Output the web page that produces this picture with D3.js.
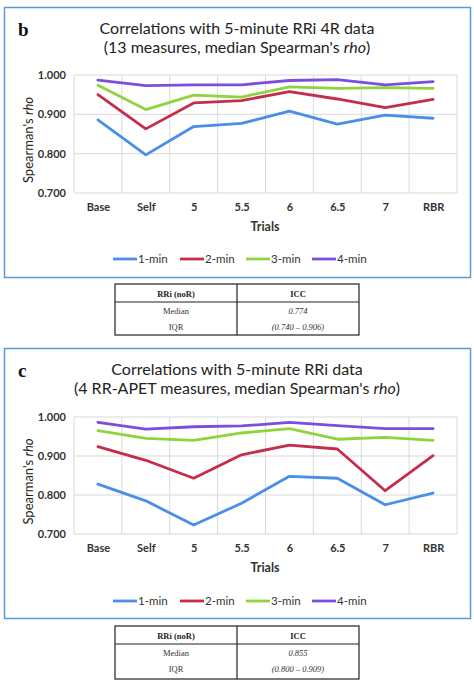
<!DOCTYPE html>
<html><head><meta charset="utf-8">
<script src="https://cdn.jsdelivr.net/npm/d3@7"></script>
<style>body{margin:0;background:#fff}svg{display:block}</style>
</head><body>
<script>
const trials = ["Base","Self","5","5.5","6","6.5","7","RBR"];
const seriesNames = ["1-min","2-min","3-min","4-min"];
const seriesColors = ["#4a8fe7","#c42d4b","#8fd43d","#7b4fdc"];
const yTicks = [0.7,0.8,0.9,1.0];

// Panel b values
const b1min = [0.886,0.797,0.869,0.877,0.908,0.875,0.898,0.890];
const b2min = [0.950,0.863,0.929,0.935,0.958,0.939,0.917,0.938];
const b3min = [0.974,0.912,0.949,0.944,0.970,0.966,0.968,0.966];
const b4min = [0.987,0.973,0.975,0.975,0.986,0.988,0.975,0.983];

// Panel c values
const c1min = [0.828,0.785,0.723,0.779,0.848,0.843,0.775,0.805];
const c2min = [0.924,0.889,0.843,0.903,0.928,0.918,0.811,0.901];
const c3min = [0.965,0.945,0.940,0.959,0.970,0.943,0.948,0.940];
const c4min = [0.986,0.969,0.975,0.977,0.986,0.978,0.970,0.970];

const tableHeader = ["RRi (noR)","ICC"];
const tableRowLabels = ["Median","IQR"];
const bTableValues = ["0.774","(0.740 – 0.906)"];
const cTableValues = ["0.855","(0.800 – 0.909)"];

const W = 474, H = 686;
const svg = d3.select("body").append("svg").attr("width",W).attr("height",H);
const sans = "Lato, 'Open Sans', sans-serif";
const serif = "'Liberation Serif', 'DejaVu Serif', serif";

function panel(cfg){
  const g = svg.append("g");
  g.append("rect").attr("x",4.5).attr("y",cfg.top+0.5).attr("width",466).attr("height",cfg.boxH)
    .attr("fill","#fff").attr("stroke","#5b9bd5").attr("stroke-width",1.5);
  g.append("text").attr("x",18).attr("y",cfg.top+29).text(cfg.letter)
    .attr("font-family",serif).attr("font-weight","bold").attr("font-size",19).attr("fill","#111");
  g.append("text").attr("x",237).attr("y",cfg.top+27).attr("text-anchor","middle")
    .attr("font-family",sans).attr("font-size",16).attr("fill","#222").text(cfg.title1);
  const t2 = g.append("text").attr("x",237).attr("y",cfg.top+45.5).attr("text-anchor","middle")
    .attr("font-family",sans).attr("font-size",16).attr("fill","#222");
  t2.append("tspan").text(cfg.title2);
  t2.append("tspan").attr("font-style","italic").text("rho");
  t2.append("tspan").text(")");

  const x = d3.scaleBand().domain(trials).range([74,457]);
  const xp = d3.scalePoint().domain(trials).range([74,457]).padding(0.5);
  const y = d3.scaleLinear().domain([0.7,1.0]).range([cfg.plotBottom, cfg.plotTop]);

  // gridlines
  g.append("g").selectAll("line").data(yTicks).join("line")
    .attr("x1",74).attr("x2",457).attr("y1",d=>y(d)).attr("y2",d=>y(d))
    .attr("stroke","#d9d9d9").attr("stroke-width",1);
  const vb = trials.map(t=>x(t)).concat([457]);
  g.append("g").selectAll("line").data(vb).join("line")
    .attr("x1",d=>d).attr("x2",d=>d).attr("y1",y(1.0)).attr("y2",y(0.7))
    .attr("stroke","#d9d9d9").attr("stroke-width",1);

  // y axis
  const ya = g.append("g").attr("transform","translate(66,0)")
    .call(d3.axisLeft(y).tickValues(yTicks).tickFormat(d3.format(".3f")).tickSize(0).tickPadding(0));
  ya.select(".domain").remove();
  ya.selectAll("text").attr("font-family",sans).attr("font-weight","bold").attr("font-size",11).attr("fill","#333");

  // x axis
  const xa = g.append("g").attr("transform",`translate(0,${cfg.plotBottom+10})`)
    .call(d3.axisBottom(xp).tickSize(0).tickPadding(0));
  xa.select(".domain").remove();
  xa.selectAll("text").attr("dy","0.71em").attr("font-family",sans).attr("font-weight","bold").attr("font-size",11).attr("fill","#333");

  g.append("text").attr("x",265).attr("y",cfg.plotBottom+38).attr("text-anchor","middle")
    .attr("font-family",sans).attr("font-weight","bold").attr("font-size",12.5).attr("fill","#333").text("Trials");
  const yt = g.append("text").attr("transform",`translate(33,${(y(0.7)+y(1.0))/2+6}) rotate(-90)`)
    .attr("text-anchor","middle").attr("font-family",sans).attr("font-size",13).attr("fill","#222");
  yt.append("tspan").text("Spearman's ");
  yt.append("tspan").attr("font-style","italic").text("rho");

  const line = d3.line().x((d,i)=>xp(trials[i])).y(d=>y(d));
  cfg.series.forEach((s,i)=>{
    g.append("path").attr("d",line(s)).attr("fill","none").attr("stroke",seriesColors[i])
      .attr("stroke-width",2.8).attr("stroke-linejoin","round").attr("stroke-linecap","round");
  });

  // legend
  const lx = [113,180,246,312];
  seriesNames.forEach((n,i)=>{
    g.append("line").attr("x1",lx[i]).attr("x2",lx[i]+24).attr("y1",cfg.legendY).attr("y2",cfg.legendY)
      .attr("stroke",seriesColors[i]).attr("stroke-width",2.8);
    g.append("text").attr("x",lx[i]+25).attr("y",cfg.legendY+4).text(n)
      .attr("font-family",sans).attr("font-size",11.5).attr("fill","#333");
  });

  // table
  const tt = cfg.tableTop, tl = 115, tr = 359, tm = 237, hb = tt+18, tb = cfg.tableBottom;
  const tg = svg.append("g");
  tg.append("rect").attr("x",tl).attr("y",tt).attr("width",tr-tl).attr("height",tb-tt)
    .attr("fill","none").attr("stroke","#222").attr("stroke-width",1.2);
  tg.append("line").attr("x1",tl).attr("x2",tr).attr("y1",hb).attr("y2",hb).attr("stroke","#222").attr("stroke-width",1.2);
  tg.append("line").attr("x1",tm).attr("x2",tm).attr("y1",tt).attr("y2",tb).attr("stroke","#222").attr("stroke-width",1.2);
  [0,1].forEach(k=>{
    tg.append("text").attr("x",k? (tm+tr)/2 : (tl+tm)/2).attr("y",tt+12.5).attr("text-anchor","middle")
      .attr("font-family",serif).attr("font-weight","bold").attr("font-size",8.5).attr("fill","#222").text(tableHeader[k]);
  });
  tableRowLabels.forEach((r,k)=>{
    const yy = hb + 12 + k*16;
    tg.append("text").attr("x",(tl+tm)/2).attr("y",yy).attr("text-anchor","middle")
      .attr("font-family",serif).attr("font-size",8.5).attr("fill","#333").text(r);
    tg.append("text").attr("x",(tm+tr)/2).attr("y",yy).attr("text-anchor","middle")
      .attr("font-family",serif).attr("font-style","italic").attr("font-size",8.5).attr("fill","#333").text(cfg.tableVals[k]);
  });
}

panel({top:7, boxH:270, letter:"b",
  title1:"Correlations with 5-minute RRi 4R data",
  title2:"(13 measures, median Spearman's ",
  plotTop:75, plotBottom:193, legendY:259,
  series:[b1min,b2min,b3min,b4min],
  tableTop:284, tableBottom:335, tableVals:bTableValues});

panel({top:348, boxH:270, letter:"c",
  title1:"Correlations with 5-minute RRi data",
  title2:"(4 RR-APET measures, median Spearman's ",
  plotTop:417, plotBottom:534, legendY:601,
  series:[c1min,c2min,c3min,c4min],
  tableTop:626, tableBottom:679, tableVals:cTableValues});
</script>
</body></html>
